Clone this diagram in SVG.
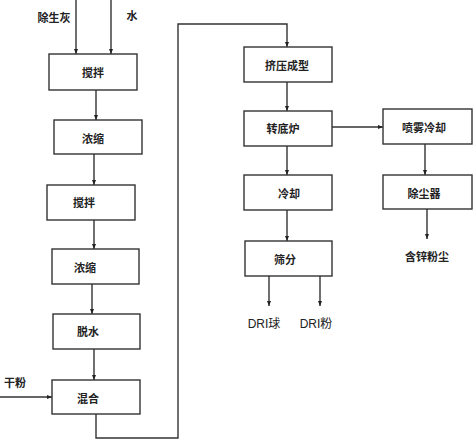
<svg xmlns="http://www.w3.org/2000/svg" width="474" height="441" viewBox="0 0 474 441">
<defs>
<marker id="ah" markerWidth="6" markerHeight="6" refX="5" refY="3" orient="auto" markerUnits="userSpaceOnUse">
<path d="M0,1 L5,3 L0,5 Z" fill="#222"/>
</marker>
<style>
.box{fill:#fff;stroke:#333;stroke-width:1.4}
.ln{fill:none;stroke:#333;stroke-width:1.4}
.t{font-family:"Noto Sans CJK SC","Liberation Sans",sans-serif;font-size:11px;font-weight:bold;fill:#222;text-anchor:middle;dominant-baseline:central}
.d{font-family:"Liberation Sans","Noto Sans CJK SC",sans-serif;font-size:12px;fill:#222;text-anchor:middle;dominant-baseline:central}
</style>
</defs>
<rect width="474" height="441" fill="#fff"/>
<g id="connectors">
<path class="ln" d="M76,0 V54" marker-end="url(#ah)"/>
<path class="ln" d="M111,0 V54" marker-end="url(#ah)"/>
<path class="ln" d="M96,90 V120" marker-end="url(#ah)"/>
<path class="ln" d="M94,154 V185" marker-end="url(#ah)"/>
<path class="ln" d="M94,220 V249" marker-end="url(#ah)"/>
<path class="ln" d="M92,284 V314" marker-end="url(#ah)"/>
<path class="ln" d="M94,349 V380" marker-end="url(#ah)"/>
<path class="ln" d="M0,397 H52" marker-end="url(#ah)"/>
<path class="ln" d="M96,414 V438 H178 V24 H287 V47" marker-end="url(#ah)"/>
<path class="ln" d="M287,82 V111" marker-end="url(#ah)"/>
<path class="ln" d="M332,127 H383" marker-end="url(#ah)"/>
<path class="ln" d="M287,146 V175" marker-end="url(#ah)"/>
<path class="ln" d="M425,144 V175" marker-end="url(#ah)"/>
<path class="ln" d="M287,210 V241" marker-end="url(#ah)"/>
<path class="ln" d="M269,276 V306" marker-end="url(#ah)"/>
<path class="ln" d="M320,276 V306" marker-end="url(#ah)"/>
<path class="ln" d="M427,209 V239" marker-end="url(#ah)"/>
</g>
<g id="labels">
<text class="t" x="54" y="17">除生灰</text>
<text class="t" x="132" y="15">水</text>
<text class="t" x="15" y="382">干粉</text>
<text class="d" x="264" y="324">DRI球</text>
<text class="d" x="316" y="324">DRI粉</text>
<text class="t" x="427" y="256">含锌粉尘</text>
</g>
<g id="n1"><rect class="box" x="49" y="54" width="88" height="36"/><text class="t" x="93" y="72">搅拌</text></g>
<g id="n2"><rect class="box" x="54" y="120" width="88" height="34"/><text class="t" x="93" y="138">浓缩</text></g>
<g id="n3"><rect class="box" x="47" y="185" width="88" height="35"/><text class="t" x="84" y="202">搅拌</text></g>
<g id="n4"><rect class="box" x="52" y="249" width="87" height="35"/><text class="t" x="85" y="267">浓缩</text></g>
<g id="n5"><rect class="box" x="53" y="314" width="87" height="35"/><text class="t" x="88" y="331">脱水</text></g>
<g id="n6"><rect class="box" x="52" y="380" width="88" height="34"/><text class="t" x="88" y="398">混合</text></g>
<g id="n7"><rect class="box" x="244" y="47" width="88" height="35"/><text class="t" x="287" y="65">挤压成型</text></g>
<g id="n8"><rect class="box" x="244" y="111" width="88" height="35"/><text class="t" x="283" y="128">转底炉</text></g>
<g id="n9"><rect class="box" x="383" y="109" width="89" height="35"/><text class="t" x="424" y="127">喷雾冷却</text></g>
<g id="n10"><rect class="box" x="244" y="175" width="88" height="35"/><text class="t" x="289" y="193">冷却</text></g>
<g id="n11"><rect class="box" x="383" y="175" width="89" height="34"/><text class="t" x="424" y="193">除尘器</text></g>
<g id="n12"><rect class="box" x="245" y="241" width="87" height="35"/><text class="t" x="285" y="259">筛分</text></g>
</svg>
